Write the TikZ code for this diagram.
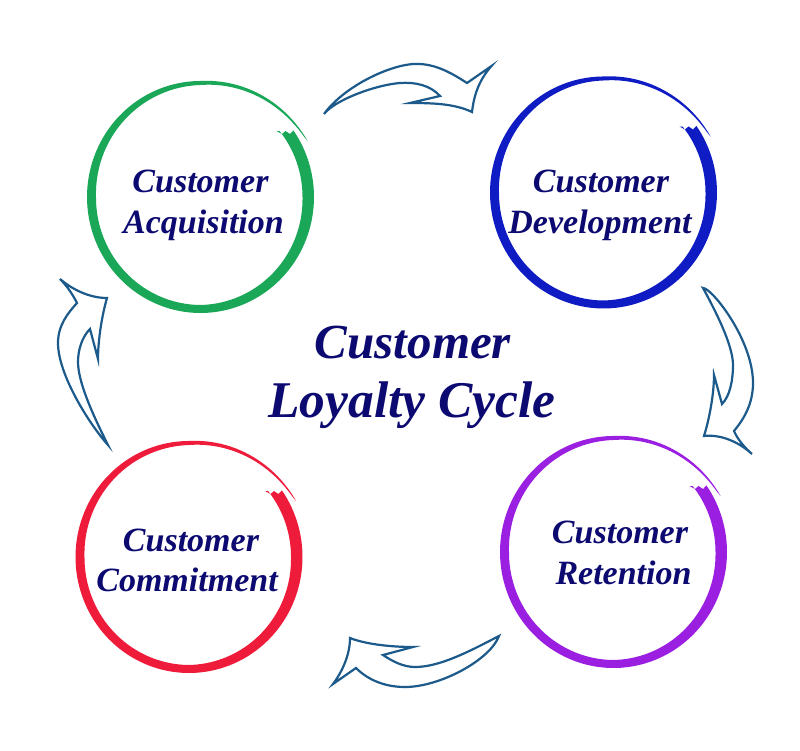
\documentclass[tikz,border=0pt]{standalone}
\usepackage{fontspec}
\setmainfont{Liberation Serif}
\definecolor{ringgreen}{HTML}{1AA757}
\definecolor{ringblue}{HTML}{0F1CC4}
\definecolor{ringpurple}{HTML}{9B1FE0}
\definecolor{ringred}{HTML}{EE1C3A}
\definecolor{labelnavy}{HTML}{0C0A70}
\definecolor{arrowblue}{HTML}{1B5A8A}
\tikzset{
    declare function={
        ringf(\a)=\a<90 ? 1+0.06*(90-\a)/63 : 1;
        ringw(\a)=\a<90 ? 4*sqrt((\a-27)/63) : (\a<180 ? 4+(\a-90)*5/90 : (\a<270 ? 9-(\a-180)*1/90 : (\a<360 ? 8+(\a-270)*3.5/90 : 11.5)));
    },
    ringshape/.pic={
        \fill[#1] plot[domain=27:395, samples=150] ({113.5*ringf(\x)*cos(\x)}, {-116*ringf(\x)*sin(\x)})
            -- (89.5,-63) -- (85,-66) -- (81.5,-63) -- (76,-66)
            -- plot[domain=399:27, samples=150] ({(113.5*ringf(\x)-ringw(\x))*cos(\x)}, {-(116*ringf(\x)-ringw(\x))*sin(\x)}) -- cycle;
    },
    ringlabel/.style={anchor=base, text=labelnavy, font=\fontsize{34}{40}\selectfont\bfseries\itshape},
    titlelabel/.style={anchor=base, text=labelnavy, font=\fontsize{49}{56}\selectfont\bfseries\itshape},
    cyclearrow/.style={draw=arrowblue, line width=2.2pt, line join=miter, fill=white}
}
\begin{document}
\begin{tikzpicture}[x=1pt, y=-1pt]
    \useasboundingbox (0,0) rectangle (800,751);
    \pic at (200.5,197) {ringshape=ringgreen};
    \pic at (603.5,192.5) {ringshape=ringblue};
    \pic at (613.5,552) {ringshape=ringpurple};
    \pic at (189,557) {ringshape=ringred};
    \node[ringlabel] (acq1) at (200.5,193) {Customer};
    \node[ringlabel] (acq2) at (203.5,234) {Acquisition};
    \node[ringlabel] (dev1) at (601,193) {Customer};
    \node[ringlabel] (dev2) at (600,234) {Development};
    \node[ringlabel] (ret1) at (620,543) {Customer};
    \node[ringlabel] (ret2) at (623.5,584) {Retention};
    \node[ringlabel] (com1) at (191,551) {Customer};
    \node[ringlabel] (com2) at (187,591) {Commitment};
    \node[titlelabel] (title1) at (413,358) {Customer};
    \node[titlelabel, font=\fontsize{51.5}{56}\selectfont\bfseries\itshape] (title2) at (412,417) {Loyalty Cycle};
    % arrows between the rings
    \draw[cyclearrow] (324,114) .. controls (345,85) and (395,62) .. (420,64) .. controls (438,65) and (453,74) .. (467,83)
        -- (491.5,66) .. controls (479,80) and (474,95) .. (472,112) .. controls (455,104) and (435,103) .. (410,103)
        -- (440,96) .. controls (430,85) and (415,82) .. (400,83) .. controls (375,85) and (335,100) .. (324,114) -- cycle;
    \draw[cyclearrow] (703,288) .. controls (712,288) and (753,340) .. (753,383) .. controls (753,405) and (743,420) .. (734,431)
        .. controls (738,440) and (745,448) .. (752,454) .. controls (740,443) and (722,434) .. (704,436)
        .. controls (709,420) and (714,395) .. (714,375)
        -- (722,404) .. controls (730,396) and (733,380) .. (733,365) .. controls (733,345) and (715,310) .. (703,288) -- cycle;
    \draw[cyclearrow] (499,636) .. controls (470,651) and (440,667) .. (415,667) .. controls (403,667) and (392,661) .. (383,655)
        -- (413,647) .. controls (390,647) and (365,644) .. (350,638) .. controls (350,655) and (342,672) .. (333,684)
        -- (356,668) .. controls (368,680) and (385,687) .. (405,687) .. controls (440,687) and (490,660) .. (499,636) -- cycle;
    \draw[cyclearrow] (108,445) .. controls (90,425) and (58,375) .. (58,343) .. controls (58,325) and (68,313) .. (77,303)
        .. controls (72,293) and (66,285) .. (60,279) .. controls (73,290) and (90,298) .. (107,298)
        .. controls (102,315) and (98,340) .. (98,359)
        -- (90,329) .. controls (82,337) and (78,350) .. (78,362) .. controls (78,385) and (98,425) .. (108,445) -- cycle;
\end{tikzpicture}
\end{document}
